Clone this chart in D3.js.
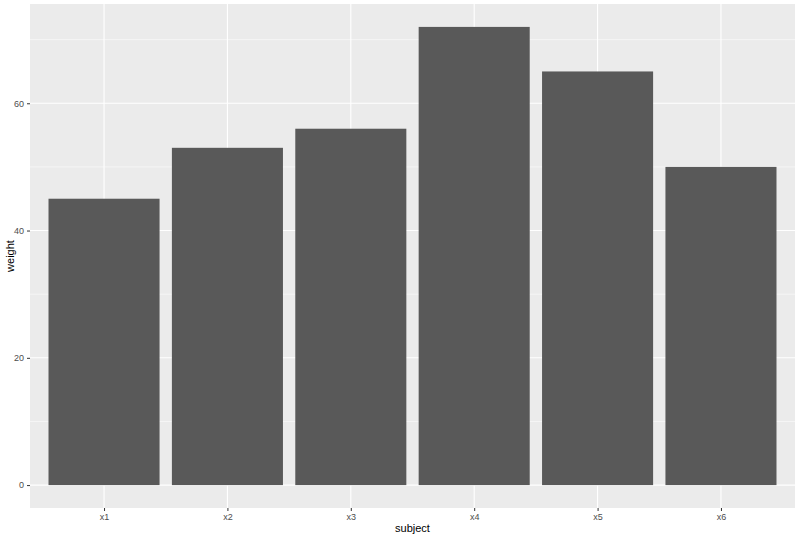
<!DOCTYPE html>
<html>
<head>
<meta charset="utf-8">
<script src="https://cdn.jsdelivr.net/npm/d3@7"></script>
<style>
  body { margin: 0; background: #fff; }
  .axis text { font-family: "Liberation Sans", Arial, sans-serif; font-size: 9px; fill: #4d4d4d; }
  .axis line { stroke: #333; }
  .axis path { display: none; }
  .title { font-family: "Liberation Sans", Arial, sans-serif; font-size: 11px; fill: #000; }
</style>
</head>
<body>
<div id="chart"></div>
<script>
// data
const subjects = ['x1', 'x2', 'x3', 'x4', 'x5', 'x6'];
const weights = [45, 53, 56, 72, 65, 50];
const yTicks = [0, 20, 40, 60];
const yMinor = [10, 30, 50, 70];

const dimensions = {
  width: 800,
  height: 539,
  margin: { top: 4, bottom: 31, left: 30, right: 5 },
};
dimensions.ctrWidth = dimensions.width - dimensions.margin.left - dimensions.margin.right;
dimensions.ctrHeight = dimensions.height - dimensions.margin.top - dimensions.margin.bottom;

const svg = d3.select('#chart')
  .append('svg')
  .attr('width', dimensions.width)
  .attr('height', dimensions.height);

const ctr = svg.append('g')
  .attr('transform', `translate(${dimensions.margin.left}, ${dimensions.margin.top})`);

// scales (ggplot style expansion)
const yMax = d3.max(weights);
const yScale = d3.scaleLinear()
  .domain([-yMax * 0.05, yMax * 1.05])
  .range([dimensions.ctrHeight, 0]);

const xIndex = d3.scaleLinear()
  .domain([0.4, subjects.length + 0.6])
  .range([0, dimensions.ctrWidth]);
const xScale = (s) => xIndex(subjects.indexOf(s) + 1);
const barW = xIndex(1.45) - xIndex(0.55);

// panel
ctr.append('rect')
  .attr('width', dimensions.ctrWidth)
  .attr('height', dimensions.ctrHeight)
  .attr('fill', '#ebebeb');

// grid
ctr.selectAll('.minor')
  .data(yMinor)
  .join('line')
  .attr('x1', 0).attr('x2', dimensions.ctrWidth)
  .attr('y1', yScale).attr('y2', yScale)
  .attr('stroke', '#fff').attr('stroke-width', 0.55);

ctr.selectAll('.major')
  .data(yTicks)
  .join('line')
  .attr('x1', 0).attr('x2', dimensions.ctrWidth)
  .attr('y1', yScale).attr('y2', yScale)
  .attr('stroke', '#fff').attr('stroke-width', 1.1);

ctr.selectAll('.vmajor')
  .data(subjects)
  .join('line')
  .attr('x1', xScale).attr('x2', xScale)
  .attr('y1', 0).attr('y2', dimensions.ctrHeight)
  .attr('stroke', '#fff').attr('stroke-width', 1.1);

// bars
ctr.selectAll('.bar')
  .data(weights)
  .join('rect')
  .attr('x', (d, i) => xScale(subjects[i]) - barW / 2)
  .attr('width', barW)
  .attr('y', (d) => yScale(d))
  .attr('height', (d) => yScale(0) - yScale(d))
  .attr('fill', '#595959');

// axes
const yAxis = d3.axisLeft(yScale).tickValues(yTicks).tickSize(3).tickPadding(3);
ctr.append('g').classed('axis', true).call(yAxis);

const xBand = d3.scalePoint().domain(subjects)
  .range([xScale(subjects[0]), xScale(subjects[subjects.length - 1])]);
const xAxis = d3.axisBottom(xBand).tickSize(3).tickPadding(3);
ctr.append('g').classed('axis', true)
  .attr('transform', `translate(0, ${dimensions.ctrHeight})`)
  .call(xAxis);

// titles
svg.append('text').classed('title', true)
  .attr('x', dimensions.margin.left + dimensions.ctrWidth / 2)
  .attr('y', dimensions.height - 7)
  .attr('text-anchor', 'middle')
  .text('subject');

svg.append('text').classed('title', true)
  .attr('transform', `translate(14, ${dimensions.margin.top + dimensions.ctrHeight / 2}) rotate(-90)`)
  .attr('text-anchor', 'middle')
  .text('weight');
</script>
</body>
</html>
